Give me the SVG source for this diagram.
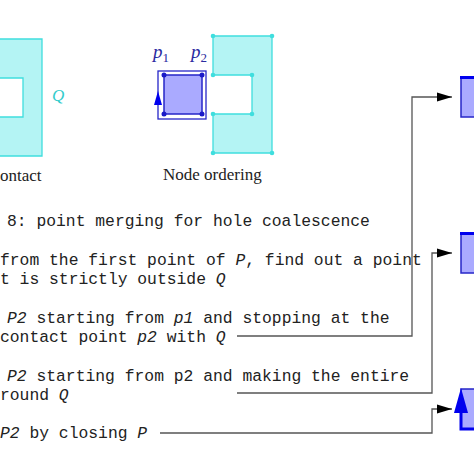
<svg xmlns="http://www.w3.org/2000/svg" width="474" height="474" viewBox="0 0 474 474">
<style>
.mono{font-family:"Liberation Mono","Courier New",monospace;font-size:16.35px;fill:#222}
.it{font-style:italic}
.serif{font-family:"Liberation Serif","Times New Roman",serif;font-size:17px;fill:#222}
.cyan{fill:#b4f4f4;stroke:#3fdede;stroke-width:1.3}
.cdot{fill:#3fdede}
.pblue{fill:#aaaaff;stroke:#2626c8;stroke-width:1.5}
.bdot{fill:#1a1ac8}
.conn{fill:none;stroke:#555;stroke-width:1.3}
.thick{stroke:#0000ee;stroke-width:3;fill:none}
</style>
<defs>
<marker id="arr" markerUnits="userSpaceOnUse" markerWidth="16" markerHeight="10" refX="15" refY="5" orient="auto">
<path d="M0,0.5 L15,5 L0,9.5 z" fill="#000"/>
</marker>
</defs>
<rect width="474" height="474" fill="#fff"/>

<g id="contact">
<path class="cyan" fill-rule="evenodd" d="M-40,39 H42 V156 H-40 z M-20,78 H23 V117 H-20 z"/>
<text x="52" y="101" class="serif it" style="fill:#33cccc">Q</text>
<text x="0" y="181" class="serif">ontact</text>
</g>

<g id="node-ordering">
<polygon class="cyan" points="213,36 272,36 272,153 213,153 213,114 252,114 252,75 213,75"/>
<g class="cdot">
<circle cx="213" cy="36" r="2.3"/><circle cx="272" cy="36" r="2.3"/>
<circle cx="213" cy="75" r="2.3"/><circle cx="252" cy="75" r="2.3"/>
<circle cx="252" cy="114" r="2.3"/><circle cx="213" cy="114" r="2.3"/>
<circle cx="213" cy="153" r="2.3"/><circle cx="272" cy="153" r="2.3"/>
</g>
<rect x="158" y="71" width="48" height="48" fill="none" stroke="#2626c8" stroke-width="1.3"/>
<rect x="164" y="75" width="38" height="39" class="pblue"/>
<g class="bdot">
<circle cx="164" cy="75" r="2.5"/><circle cx="202" cy="75" r="2.5"/>
<circle cx="164" cy="114" r="2.5"/><circle cx="202" cy="114" r="2.5"/>
</g>
<polygon points="154,105 158,91 162,105" fill="#0000ee"/>
<text x="153" y="58" class="serif it" style="fill:#2a2aa0;font-size:19px">p<tspan font-size="13" dy="4" font-style="normal">1</tspan></text>
<text x="191" y="58" class="serif it" style="fill:#2a2aa0;font-size:19px">p<tspan font-size="13" dy="4" font-style="normal">2</tspan></text>
<text x="163" y="180" class="serif">Node ordering</text>
</g>

<g id="box-top">
<rect x="461" y="77" width="30" height="40" class="pblue"/>
<line x1="460" y1="77.5" x2="474" y2="77.5" class="thick"/>
</g>
<g id="box-mid">
<rect x="461" y="233" width="30" height="40" class="pblue"/>
<line x1="460" y1="233.5" x2="474" y2="233.5" class="thick"/>
</g>
<g id="box-bot">
<rect x="461" y="389" width="30" height="40" class="pblue"/>
<polyline points="461,410 461,429 474,429" class="thick"/>
<polygon points="454,413 461,388 468,413" fill="#0000ee"/>
</g>

<g id="text">
<text class="mono" x="7" y="226">8: point merging for hole coalescence</text>
<text class="mono" x="0" y="265">from the first point of <tspan class="it">P</tspan>, find out a point</text>
<text class="mono" x="0" y="284">t is strictly outside <tspan class="it">Q</tspan></text>
<text class="mono" x="7" y="323"><tspan class="it">P2</tspan> starting from <tspan class="it">p1</tspan> and stopping at the</text>
<text class="mono" x="0" y="342">contact point <tspan class="it">p2</tspan> with <tspan class="it">Q</tspan></text>
<text class="mono" x="7" y="381"><tspan class="it">P2</tspan> starting from p2 and making the entire</text>
<text class="mono" x="0" y="400">round <tspan class="it">Q</tspan></text>
<text class="mono" x="0" y="438"><tspan class="it">P2</tspan> by closing <tspan class="it">P</tspan></text>
</g>

<g id="connectors">
<polyline class="conn" points="237,336 412,336 412,97 452,97" marker-end="url(#arr)"/>
<polyline class="conn" points="237,393 432,393 432,253 452,253" marker-end="url(#arr)"/>
<polyline class="conn" points="160,433 432,433 432,409 452,409" marker-end="url(#arr)"/>
</g>
</svg>
